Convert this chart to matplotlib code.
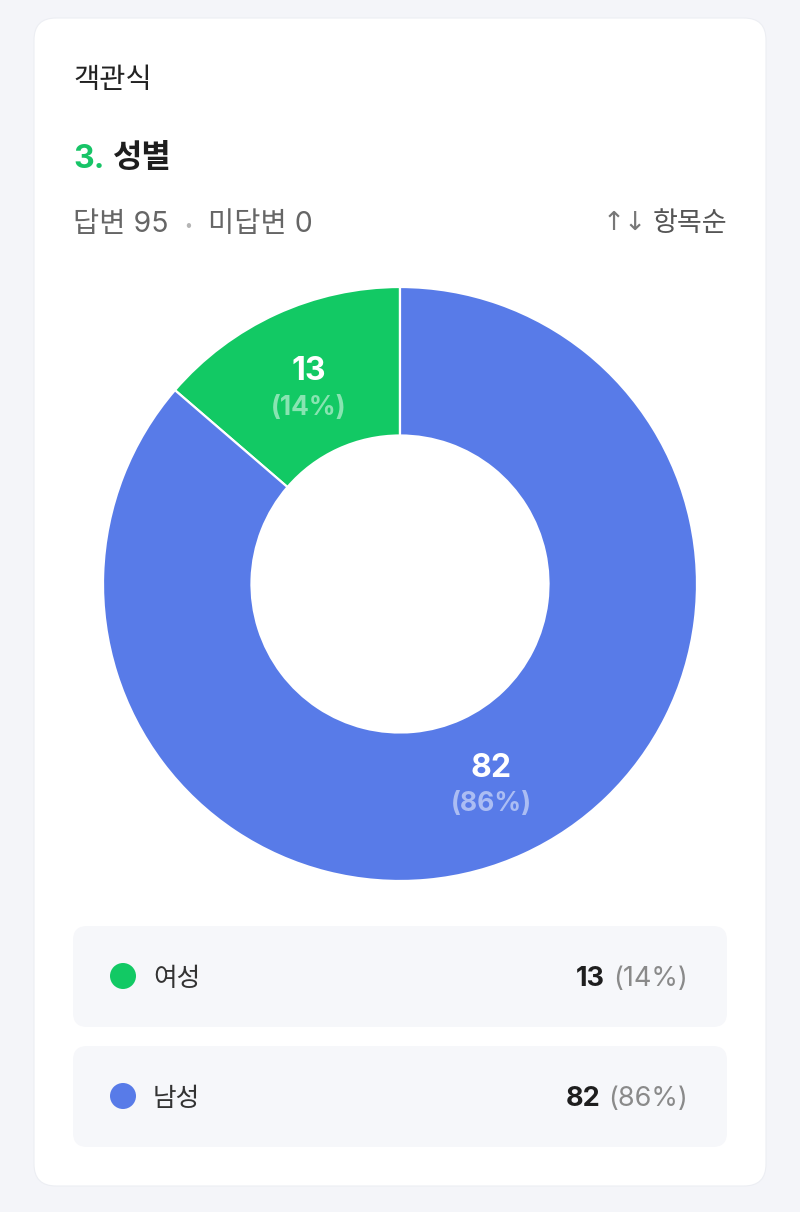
import matplotlib.pyplot as plt
from matplotlib.patches import FancyBboxPatch, Circle
import numpy as np

plt.rcParams['font.family'] = ['Inter', 'Noto Sans CJK KR', 'DejaVu Sans']

# data
labels = ['여성', '남성']
counts = [13, 82]
colors = ['#12c964', '#587be8']
answered = 95
unanswered = 0
question_no = 3
question = '성별'
qtype = '객관식'

total = sum(counts)
pcts = [round(c / total * 100) for c in counts]

W, H = 800, 1212
fig = plt.figure(figsize=(W / 100, H / 100), dpi=100, facecolor='#f4f5f9')

# background axes in pixel coords
bg = fig.add_axes([0, 0, 1, 1])
bg.set_xlim(0, W)
bg.set_ylim(H, 0)
bg.axis('off')

card = FancyBboxPatch((34, 18), 732, 1168, boxstyle='round,pad=0,rounding_size=22',
                      facecolor='white', edgecolor='#eceef3', linewidth=0.8)
bg.add_patch(card)

renderer = fig.canvas.get_renderer()


def right_edge(t):
    bb = t.get_window_extent(renderer)
    return bg.transData.inverted().transform((bb.x1, bb.y0))[0]


def left_edge(t):
    bb = t.get_window_extent(renderer)
    return bg.transData.inverted().transform((bb.x0, bb.y0))[0]


bg.text(73, 81, qtype, fontsize=20.5, color='#222222', va='center', ha='left')

t = bg.text(73, 159, f'{question_no}.', fontsize=23, color='#17c467', fontweight='bold',
            va='center', ha='left')
bg.text(right_edge(t) + 9, 159, question, fontsize=23, color='#1e1e1e', fontweight='bold',
        va='center', ha='left')

t = bg.text(73, 224, f'답변 {answered}', fontsize=20.5, color='#666666', va='center', ha='left')
t = bg.text(right_edge(t) + 16, 226, '•', fontsize=10, color='#b5b5b5', va='center', ha='left')
bg.text(right_edge(t) + 16, 224, f'미답변 {unanswered}', fontsize=20.5, color='#666666',
        va='center', ha='left')

t = bg.text(727, 224, '항목순', fontsize=19.5, color='#555555', va='center', ha='right')
bg.text(left_edge(t) - 6, 223, '↑↓', fontsize=19, color='#777777', va='center', ha='right',
        family=['DejaVu Sans'])

# donut
cx, cy, r = 400, 584, 297
ax = fig.add_axes([(cx - r) / W, (H - cy - r) / H, 2 * r / W, 2 * r / H])
wedges, _ = ax.pie(counts, colors=colors, startangle=90, counterclock=True,
                   wedgeprops=dict(width=0.5, edgecolor='white', linewidth=1.6))
ax.set_xlim(-1, 1)
ax.set_ylim(-1, 1)
ax.set_aspect('equal')

for w, c, p in zip(wedges, counts, pcts):
    ang = np.deg2rad((w.theta1 + w.theta2) / 2)
    x, y = 0.735 * np.cos(ang), 0.735 * np.sin(ang) - 0.012
    ax.text(x, y + 0.06, str(c), fontsize=23, fontweight='bold', color='white',
            ha='center', va='center')
    ax.text(x, y - 0.062, f'({p}%)', fontsize=19, fontweight='bold', color='white',
            alpha=0.5, ha='center', va='center')

# legend rows
row_y = [926, 1046]
for ry, lab, c, p, col in zip(row_y, labels, counts, pcts, colors):
    bg.add_patch(FancyBboxPatch((73, ry), 654, 101, boxstyle='round,pad=0,rounding_size=14',
                                facecolor='#f6f7fa', edgecolor='none'))
    yc = ry + 50
    bg.add_patch(Circle((123, yc), 13, facecolor=col, edgecolor='none'))
    bg.text(153, yc + 3, lab, fontsize=18.5, color='#333333', va='center', ha='left')
    t = bg.text(688, yc + 3, f'({p}%)', fontsize=19.5, color='#8a8a8a', va='center', ha='right')
    bg.text(left_edge(t) - 8, yc + 3, str(c), fontsize=19.5, color='#1e1e1e', fontweight='bold',
            va='center', ha='right')

fig.savefig('out.png', dpi=100, facecolor=fig.get_facecolor())
